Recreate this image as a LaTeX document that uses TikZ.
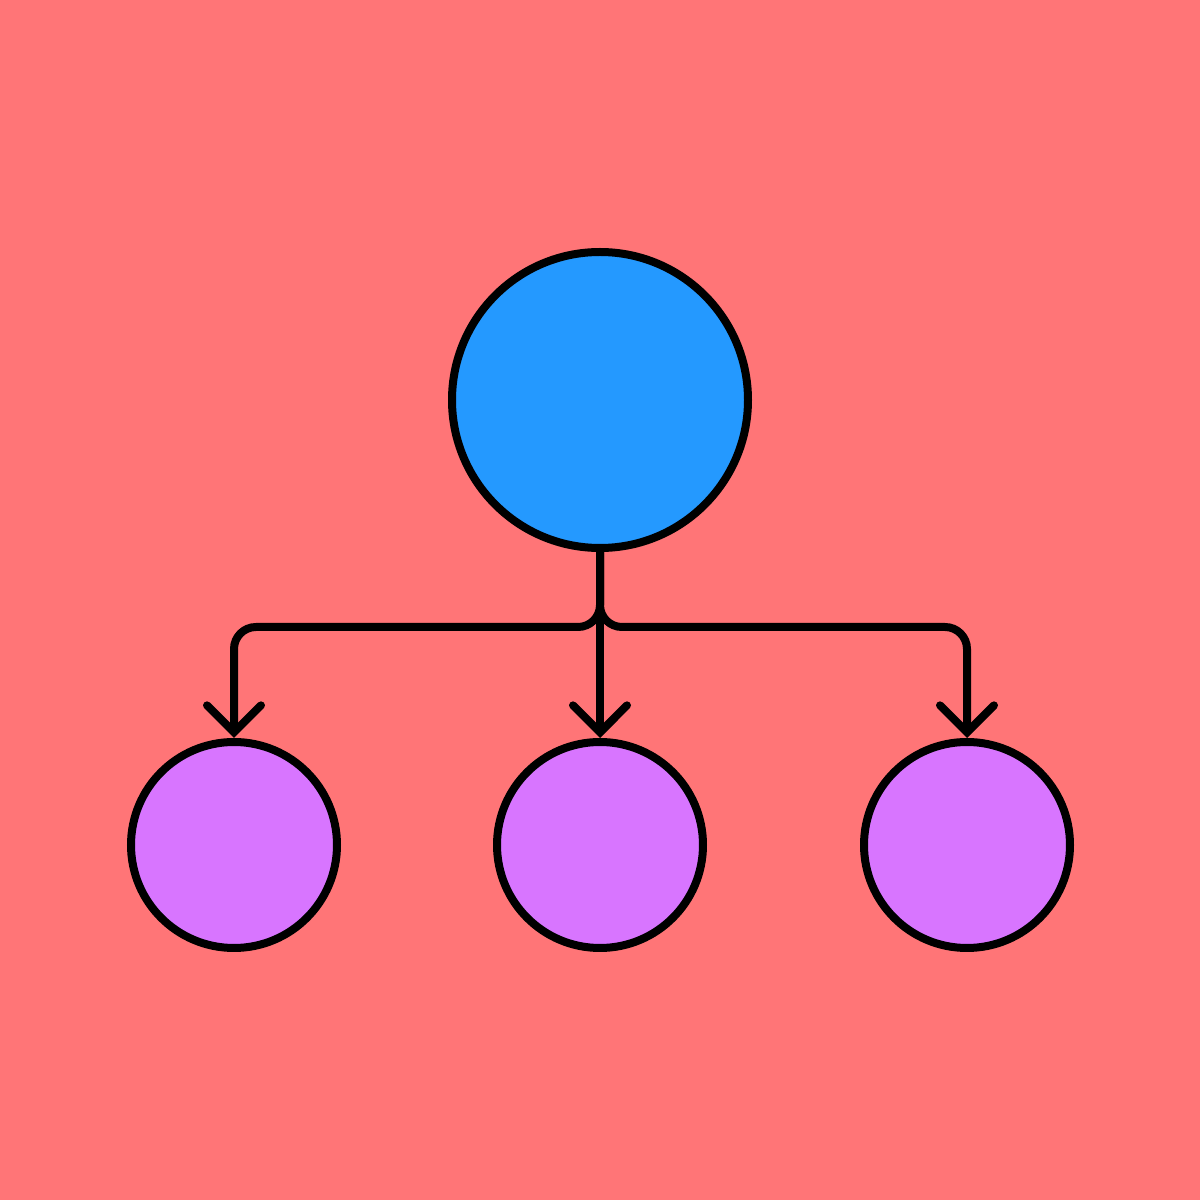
\documentclass[tikz,border=0pt]{standalone}
\usetikzlibrary{arrows.meta}
\definecolor{bgred}{HTML}{FF7577}
\definecolor{rootblue}{HTML}{2499FF}
\definecolor{leafpurple}{HTML}{D875FF}
\begin{document}
\begin{tikzpicture}[line width=0.08cm]
    \tikzstyle{root}=[circle,draw=black,fill=rootblue,minimum size=2.96cm,inner sep=0pt]
    \tikzstyle{leaf}=[circle,draw=black,fill=leafpurple,minimum size=2.06cm,inner sep=0pt]
    \tikzstyle{branch}=[-{Straight Barb[length=0.27cm,width=0.54cm,line cap=round]},rounded corners=0.22cm]
    \fill[bgred] (0,0) rectangle (12,12);
    \useasboundingbox (0,0) rectangle (12,12);

    \node[root] (R) at (6,8) {};
    \foreach \num/\x in {1/2.34, 2/6, 3/9.67}
            \node[leaf] (L-\num) at (\x,3.55) {};

        \coordinate (J) at (6,5.73);
        \foreach \num in {1,3}
            \draw[branch] (R.south) -- (J) -- (J -| L-\num.north) -- (L-\num.north);
        \draw[branch] (R.south) -- (L-2.north);
\end{tikzpicture}
\end{document}
